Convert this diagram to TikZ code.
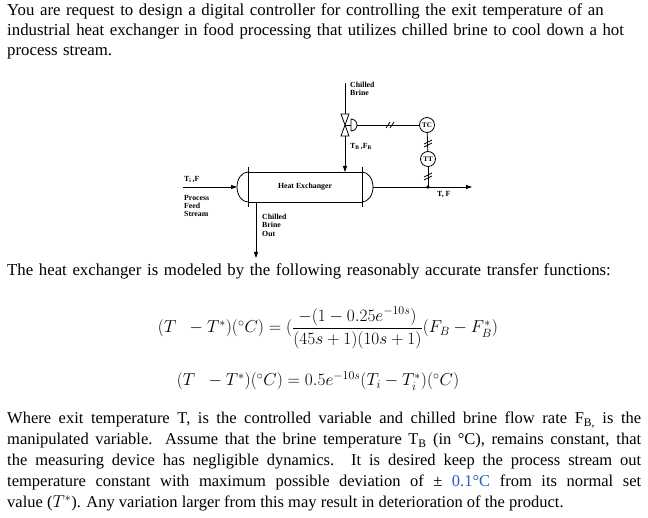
\documentclass[tikz,border=0pt]{standalone}
\usepackage{amsmath}
\usepackage{fontspec}
\setmainfont{Liberation Serif}
\usetikzlibrary{arrows.meta}
\definecolor{hl}{RGB}{40,90,200}
\begin{document}
\begin{tikzpicture}[x=1pt,y=-1pt,
  pipe/.style={line width=0.8pt},
  arr/.style={pipe,-{Triangle[length=6pt,width=4pt]}},
  inst/.style={circle,draw,line width=0.8pt,minimum size=15pt,inner sep=0pt,font=\fontsize{7}{7}\selectfont\bfseries},
  lab/.style={font=\fontsize{7.8}{8.2}\selectfont\bfseries,align=left,inner sep=0pt},
  para/.style={font=\fontsize{16.8}{20}\selectfont,inner sep=0pt,anchor=north west,text width=640pt}]
\useasboundingbox (0,0) rectangle (648,518);
\fill[white] (0,0) rectangle (648,518);
% top text
\node[para,align=left] (t1) at (7,3) {You are request to design a digital controller for controlling the exit temperature of an\\industrial heat exchanger in food processing that utilizes chilled brine to cool down a hot\\process stream.};
% heat exchanger
\draw[pipe] (248,172) -- (362,172) (248,202) -- (362,202);
\draw[pipe] (248,172) arc[start angle=-90,end angle=-270,x radius=11,y radius=15];
\draw[pipe] (362,172) arc[start angle=-90,end angle=90,x radius=11,y radius=15];
\draw[pipe] (248,167) -- (248,207) (362,167) -- (362,207);
\node[lab] (hx) at (305,187) {Heat Exchanger};
\coordinate (hxin) at (237,187);
\coordinate (hxout) at (373,187);
\coordinate (feed) at (183,187);
\coordinate (prod) at (472,187);
\coordinate (jn) at (428,187);
\draw[arr] (feed) -- (hxin);
\draw[arr] (hxout) -- (prod);
\fill (jn) circle (1.8pt);
\node[lab,anchor=south west] (ti) at (184,183) {T$_{\mathbf i}$\,,F};
\node[lab,anchor=north west] (pfs) at (184,195) {Process\\Feed\\Stream};
\node[lab,anchor=north west] (tf) at (437,191) {T, F};
% brine out
\coordinate (bo1) at (256,202);
\coordinate (bo2) at (256,258);
\draw[arr] (bo1) -- (bo2);
\node[lab,anchor=north west] (cbo) at (262,214) {Chilled\\Brine\\Out};
% brine in
\coordinate (bi) at (345,83);
\coordinate (vt) at (345,114);
\coordinate (vb) at (345,136);
\coordinate (hxtop) at (345,172);
\draw[pipe] (bi) -- (vt);
\draw[arr] (vb) -- (hxtop);
\draw[pipe] (341,114) -- (349,114) -- (341,136) -- (349,136) -- cycle;
\draw[pipe] (345,125) -- (351,125);
\draw[pipe] (351,119) -- (351,131) arc[start angle=90,end angle=-90,radius=6];
\node[lab,anchor=north west] (cb) at (350,82) {Chilled\\Brine};
\node[lab,anchor=north west] (tbfb) at (350,143) {T$_{\mathbf B}$\,,F$_{\mathbf B}$};
% instruments
\node[inst] (tc) at (427,125) {TC};
\node[inst] (tt) at (428,159) {TT};
\draw[pipe] (357,125) -- (tc);
\draw[pipe] (386,128) -- (390,122) (390,128) -- (394,122);
\draw[pipe] (tc) -- (tt);
\draw[pipe] (424,144) -- (432,140) (424,147) -- (432,143);
\draw[pipe] (tt) -- (jn);
\draw[pipe] (424,177) -- (432,173) (424,180) -- (432,176);
% middle text
\node[para,align=left] (t2) at (7,263) {The heat exchanger is modeled by the following reasonably accurate transfer functions:};
\node[font=\fontsize{18.5}{22}\selectfont,inner sep=0pt] (e1) at (328,328) {$(T\;\;-T^*)(^\circ C)=(\dfrac{-(1-0.25e^{-10s})}{(45s+1)(10s+1)}(F_B-F_B^*)$};
\node[font=\fontsize{18.5}{22}\selectfont,inner sep=0pt] (e2) at (318,381) {$(T\;\;-T^*)(^\circ C)=0.5e^{-10s}(T_i-T_i^*)(^\circ C)$};
% bottom text
\node[para,align=justify,font=\fontsize{16.5}{21}\selectfont,text width=634pt] (t3) at (7,412) {Where exit temperature T, is the controlled variable and chilled brine flow rate F\textsubscript{B,} is the\linebreak manipulated variable. Assume that the brine temperature T\textsubscript{B} (in °C), remains constant, that\linebreak the measuring device has negligible dynamics. It is desired keep the process stream out\linebreak temperature constant with maximum possible deviation of ± {\color{hl}0.1°C} from its normal set\linebreak value ($T^*$). Any variation larger from this may result in deterioration of the product.\hfill\null};
\end{tikzpicture}
\end{document}
